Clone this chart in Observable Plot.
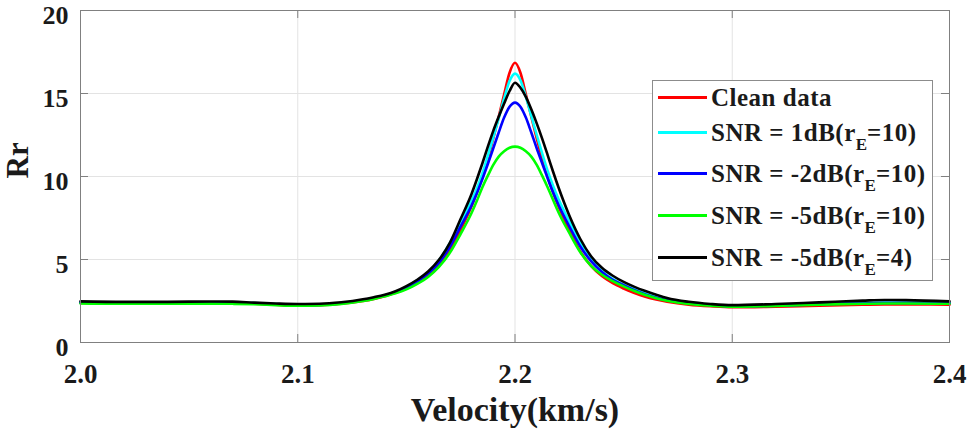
<!DOCTYPE html>
<html>
<head>
<meta charset="utf-8">
<script src="https://cdn.jsdelivr.net/npm/d3@7"></script>
<script src="https://cdn.jsdelivr.net/npm/@observablehq/plot@0.6"></script>
<style>
  body { margin: 0; background: white; }
  #wrap { position: relative; width: 968px; height: 432px; font-family: 'Liberation Serif'; font-weight: bold; color: #1a1a1a; }
  #legend { position: absolute; left: 652px; top: 80px; width: 279px; height: 199px; border: 1.5px solid #8c8c8c; background: white; font-family: 'Liberation Serif'; }
  .item { position: absolute; left: 0; height: 28px; line-height: 28px; font-size: 25px; letter-spacing: 0.5px; white-space: nowrap; }
  .swatch { position: absolute; left: 5px; top: 12px; width: 49px; height: 3px; }
  .label { position: absolute; left: 58px; top: 0; }
  .label sub { font-size: 17px; vertical-align: -9px; line-height: 0; letter-spacing: 0; }
</style>
</head>
<body>
<div id="wrap"><div id="chart"></div><div id="legend"></div></div>
<script>
const serif = "Liberation Serif";

// velocidades (km/s)
const velocity = [2.00, 2.02, 2.04, 2.06, 2.07, 2.08, 2.09, 2.10, 2.11, 2.12,
  2.13, 2.135, 2.14, 2.145, 2.15, 2.155, 2.16, 2.165, 2.17, 2.175,
  2.18, 2.1825, 2.185, 2.1875, 2.19, 2.1925, 2.195, 2.1975, 2.20,
  2.2025, 2.205, 2.2075, 2.21, 2.2125, 2.215, 2.2175, 2.22,
  2.225, 2.23, 2.235, 2.24, 2.245, 2.25, 2.255, 2.26, 2.265, 2.27,
  2.28, 2.29, 2.30, 2.32, 2.34, 2.36, 2.37, 2.38, 2.40];

const clean = [2.38, 2.36, 2.36, 2.37, 2.36, 2.33, 2.27, 2.22, 2.24, 2.33,
  2.50, 2.62, 2.79, 3.00, 3.25, 3.57, 4.00, 4.62, 5.50, 6.80,
  8.20, 9.05, 10.0, 11.1, 12.3, 13.6, 14.95, 16.25, 16.85,
  16.25, 14.95, 13.6, 12.3, 11.1, 10.0, 9.05, 8.20,
  6.80, 5.50, 4.62, 4.00, 3.57, 3.25, 2.98, 2.76, 2.59, 2.46,
  2.28, 2.18, 2.12, 2.16, 2.22, 2.27, 2.29, 2.29, 2.28];

const snr1 = [2.42, 2.40, 2.40, 2.42, 2.41, 2.37, 2.31, 2.27, 2.28, 2.37,
  2.56, 2.68, 2.84, 3.05, 3.34, 3.74, 4.22, 4.95, 5.98, 7.25,
  8.55, 9.30, 10.2, 11.25, 12.35, 13.5, 14.7, 15.75, 16.2,
  15.8, 14.8, 13.65, 12.5, 11.4, 10.35, 9.45, 8.65,
  7.30, 6.05, 5.00, 4.30, 3.82, 3.48, 3.20, 2.94, 2.73, 2.57,
  2.38, 2.27, 2.20, 2.24, 2.32, 2.38, 2.40, 2.40, 2.38];

const snrM2 = [2.40, 2.38, 2.38, 2.40, 2.39, 2.35, 2.29, 2.25, 2.26, 2.35,
  2.54, 2.66, 2.82, 3.03, 3.31, 3.68, 4.15, 4.80, 5.75, 7.00,
  8.25, 9.00, 9.85, 10.75, 11.7, 12.65, 13.55, 14.2, 14.45,
  14.2, 13.55, 12.65, 11.7, 10.8, 9.90, 9.05, 8.30,
  7.00, 5.80, 4.90, 4.25, 3.78, 3.45, 3.15, 2.90, 2.70, 2.55,
  2.36, 2.25, 2.18, 2.22, 2.30, 2.36, 2.38, 2.38, 2.36];

const snrM5 = [2.35, 2.33, 2.33, 2.34, 2.33, 2.30, 2.25, 2.21, 2.23, 2.32,
  2.50, 2.62, 2.78, 2.96, 3.20, 3.53, 3.95, 4.55, 5.40, 6.55,
  7.80, 8.55, 9.35, 10.05, 10.7, 11.2, 11.52, 11.73, 11.8,
  11.73, 11.52, 11.2, 10.7, 10.05, 9.35, 8.60, 7.85,
  6.60, 5.45, 4.62, 4.08, 3.70, 3.38, 3.10, 2.86, 2.67, 2.52,
  2.32, 2.22, 2.16, 2.20, 2.28, 2.33, 2.35, 2.35, 2.33];

const snrM5r4 = [2.48, 2.45, 2.45, 2.47, 2.46, 2.40, 2.35, 2.32, 2.33, 2.42,
  2.60, 2.73, 2.88, 3.09, 3.40, 3.78, 4.28, 4.98, 6.00, 7.45,
  8.95, 9.85, 10.8, 11.8, 12.75, 13.6, 14.4, 15.15, 15.65,
  15.35, 14.8, 14.05, 13.2, 12.28, 11.3, 10.3, 9.35,
  7.65, 6.25, 5.20, 4.50, 4.02, 3.65, 3.35, 3.10, 2.88, 2.68,
  2.45, 2.32, 2.25, 2.32, 2.42, 2.52, 2.56, 2.55, 2.48];

const seriesLabels = ["Clean data", "SNR = 1dB(r<sub>E</sub>=10)", "SNR = -2dB(r<sub>E</sub>=10)",
  "SNR = -5dB(r<sub>E</sub>=10)", "SNR = -5dB(r<sub>E</sub>=4)"];
const seriesValues = [clean, snr1, snrM2, snrM5, snrM5r4];
const seriesColors = ["#ff0000", "#00ffff", "#0000ff", "#00ff00", "#000000"];

const xTicks = [2.0, 2.1, 2.2, 2.3, 2.4];
const yTicks = [0, 5, 10, 15, 20];

const tickColor = "#808080";

const lines = seriesValues.map((vals, k) =>
  Plot.line(velocity.map((v, i) => ({v, r: vals[i]})), {
    x: "v", y: "r", stroke: seriesColors[k], strokeWidth: 2.6, curve: "monotone-x"
  })
);

const chart = Plot.plot({
  width: 968,
  height: 432,
  marginLeft: 80,
  marginRight: 19,
  marginTop: 10,
  marginBottom: 90,
  style: {fontFamily: serif, fontWeight: "bold", color: "#1a1a1a", background: "white"},
  x: {domain: [2.0, 2.4]},
  y: {domain: [0, 20]},
  marks: [
    Plot.gridX(xTicks.slice(1, -1), {stroke: "#e3e3e3", strokeOpacity: 1}),
    Plot.gridY(yTicks.slice(1, -1), {stroke: "#e3e3e3", strokeOpacity: 1}),
    ...lines,
    Plot.frame({stroke: tickColor}),
    // ticks hacia adentro
    Plot.ruleX(xTicks, {stroke: tickColor, insetTop: 324}),
    Plot.ruleX(xTicks, {stroke: tickColor, insetBottom: 324}),
    Plot.ruleY(yTicks, {stroke: tickColor, insetRight: 861}),
    Plot.ruleY(yTicks, {stroke: tickColor, insetLeft: 861}),
    Plot.axisX(xTicks, {tickSize: 0, tickPadding: 21, fontSize: 27, fontFamily: serif, tickFormat: d3.format(".1f"), label: null}),
    Plot.axisY(yTicks, {tickSize: 0, tickPadding: 12, dy: 5, fontSize: 26, fontFamily: serif, label: null}),
    Plot.text(["Velocity(km/s)"], {frameAnchor: "bottom", lineAnchor: "middle", dy: 68, fontSize: 34, fontFamily: serif, fill: "#1a1a1a"}),
    Plot.text(["Rr"], {frameAnchor: "left", lineAnchor: "middle", dx: -62, dy: 2, rotate: -90, fontSize: 31, fontFamily: serif, fill: "#1a1a1a"})
  ]
});

d3.select('#chart').append(() => chart);

// leyenda
const itemTops = [3, 38, 79, 121, 163];
const legend = d3.select('#legend');
seriesLabels.forEach((lab, k) => {
  const item = legend.append('div').attr('class', 'item').style('top', itemTops[k] + 'px');
  item.append('div').attr('class', 'swatch').style('background', seriesColors[k]);
  item.append('div').attr('class', 'label').style('font-family', serif).html(lab);
});
</script>
</body>
</html>
